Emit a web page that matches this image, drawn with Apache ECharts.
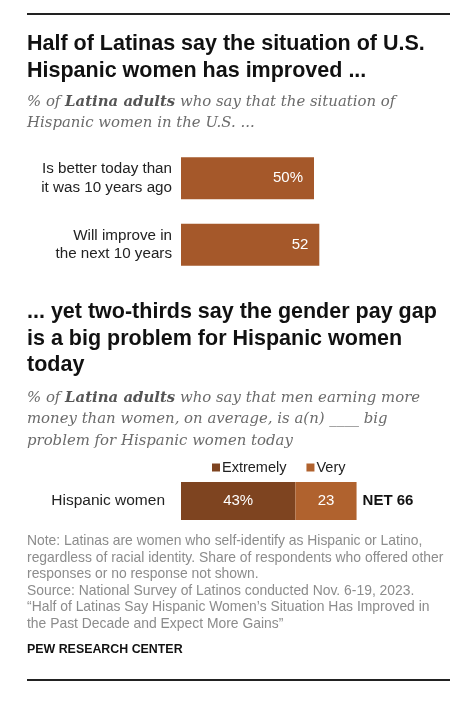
<!DOCTYPE html>
<html><head><meta charset="utf-8">
<script src="https://cdn.jsdelivr.net/npm/echarts@6/dist/echarts.min.js"></script>
<style>html,body{margin:0;padding:0;background:#fff}#c{width:474px;height:701px}</style>
</head><body><div id="c"></div>
<script>
const categories1 = ['Is better today than\nit was 10 years ago', 'Will improve in\nthe next 10 years'];
const values1 = [50, 52];
const categories2 = ['Hispanic women'];
const seriesNames2 = ['Extremely', 'Very'];
const extremely = [43];
const very = [23];
const net = extremely.map((v, i) => v + very[i]);

const sans = '"Liberation Sans", Arial, sans-serif';
const serif = '"DejaVu Serif", Georgia, serif';
const chart = echarts.init(document.getElementById('c'));

const subI = { fontFamily: serif, fontStyle: 'italic', fontWeight: 'normal', fontSize: 14.9, color: '#6b6b6b' };
const subB = { fontFamily: serif, fontStyle: 'italic', fontWeight: 'bold', fontSize: 14.9, color: '#555' };

chart.setOption({
  animation: false,
  backgroundColor: '#fff',
  title: [
    { text: 'Half of Latinas say the situation of U.S.\nHispanic women has improved ...', left: 27, top: 31, padding: 0,
      textStyle: { fontFamily: sans, fontWeight: 'bold', fontSize: 21.5, lineHeight: 27, color: '#111' } },
    { text: '{i|% of }{b|Latina adults}{i| who say that the situation of}\n{i|Hispanic women in the U.S. ...}', left: 27, top: 92, padding: 0,
      textStyle: { fontWeight: 'normal', rich: {
        i: Object.assign({ lineHeight: 21 }, subI), b: Object.assign({ lineHeight: 21 }, subB) } } },
    { text: '... yet two-thirds say the gender pay gap\nis a big problem for Hispanic women\ntoday', left: 27, top: 299, padding: 0,
      textStyle: { fontFamily: sans, fontWeight: 'bold', fontSize: 21.5, lineHeight: 26.5, color: '#111' } },
    { text: '{i|% of }{b|Latina adults}{i| who say that men earning more}\n{i|money than women, on average, is a(n) ____ big}\n{i|problem for Hispanic women today}', left: 27, top: 387, padding: 0,
      textStyle: { fontWeight: 'normal', rich: {
        i: Object.assign({ lineHeight: 21.5 }, subI), b: Object.assign({ lineHeight: 21.5 }, subB) } } },
    { text: 'Note: Latinas are women who self-identify as Hispanic or Latino,\nregardless of racial identity. Share of respondents who offered other\nresponses or no response not shown.\nSource: National Survey of Latinos conducted Nov. 6-19, 2023.\n\u201cHalf of Latinas Say Hispanic Women\u2019s Situation Has Improved in\nthe Past Decade and Expect More Gains\u201d', left: 27, top: 533, padding: 0,
      textStyle: { fontFamily: sans, fontWeight: 'normal', fontSize: 13.9, lineHeight: 16.5, color: '#8c8c8c' } },
    { text: 'PEW RESEARCH CENTER', left: 27, top: 642, padding: 0,
      textStyle: { fontFamily: sans, fontWeight: 'bold', fontSize: 12.4, lineHeight: 16, color: '#111' } }
  ],
  graphic: [
    { type: 'line', shape: { x1: 27, y1: 14, x2: 450, y2: 14 }, style: { stroke: '#222', lineWidth: 2 } },
    { type: 'line', shape: { x1: 27, y1: 680, x2: 450, y2: 680 }, style: { stroke: '#222', lineWidth: 2 } }
  ],
  legend: {
    data: seriesNames2, left: 212, top: 460, itemWidth: 8, itemHeight: 8, itemGap: 20, icon: 'rect', padding: 0,
    textStyle: { fontFamily: sans, fontSize: 14.5, color: '#222', padding: [0, 0, 0, -3] }
  },
  grid: [
    { left: 181, top: 145, width: 266, height: 133 },
    { left: 181, top: 482, width: 266, height: 38 }
  ],
  xAxis: [
    { gridIndex: 0, type: 'value', min: 0, max: 100, show: false },
    { gridIndex: 1, type: 'value', min: 0, max: 100, show: false }
  ],
  yAxis: [
    { gridIndex: 0, type: 'category', data: categories1, inverse: true,
      axisLine: { show: false }, axisTick: { show: false },
      axisLabel: { margin: 9, fontFamily: sans, fontSize: 15.2, lineHeight: 18.5, color: '#222', align: 'right' } },
    { gridIndex: 1, type: 'category', data: categories2, inverse: true,
      axisLine: { show: false }, axisTick: { show: false },
      axisLabel: { margin: 16, fontFamily: sans, fontSize: 15.5, color: '#222' } }
  ],
  series: [
    { type: 'bar', xAxisIndex: 0, yAxisIndex: 0, data: values1, barWidth: 42,
      itemStyle: { color: '#a5582a' },
      label: { show: true, position: 'insideRight', distance: 11, color: '#fff', fontFamily: sans, fontSize: 15,
        formatter: p => p.dataIndex === 0 ? p.value + '%' : String(p.value) } },
    { name: seriesNames2[0], type: 'bar', xAxisIndex: 1, yAxisIndex: 1, stack: 'a', data: extremely, barWidth: 38,
      itemStyle: { color: '#7e4420' },
      label: { show: true, position: 'inside', color: '#fff', fontFamily: sans, fontSize: 15, formatter: p => p.value + '%' } },
    { name: seriesNames2[1], type: 'bar', xAxisIndex: 1, yAxisIndex: 1, stack: 'a', data: very, barWidth: 38,
      itemStyle: { color: '#b0622e' },
      label: { show: true, position: 'inside', color: '#fff', fontFamily: sans, fontSize: 15 } },
    { name: 'net', type: 'bar', xAxisIndex: 1, yAxisIndex: 1, stack: 'a', data: net.map(() => 0), barWidth: 38,
      itemStyle: { color: 'transparent' }, silent: true,
      label: { show: true, position: 'right', distance: 6, color: '#111', fontFamily: sans, fontWeight: 'bold', fontSize: 15,
        formatter: p => 'NET ' + net[p.dataIndex] } }
  ]
});
</script></body></html>
